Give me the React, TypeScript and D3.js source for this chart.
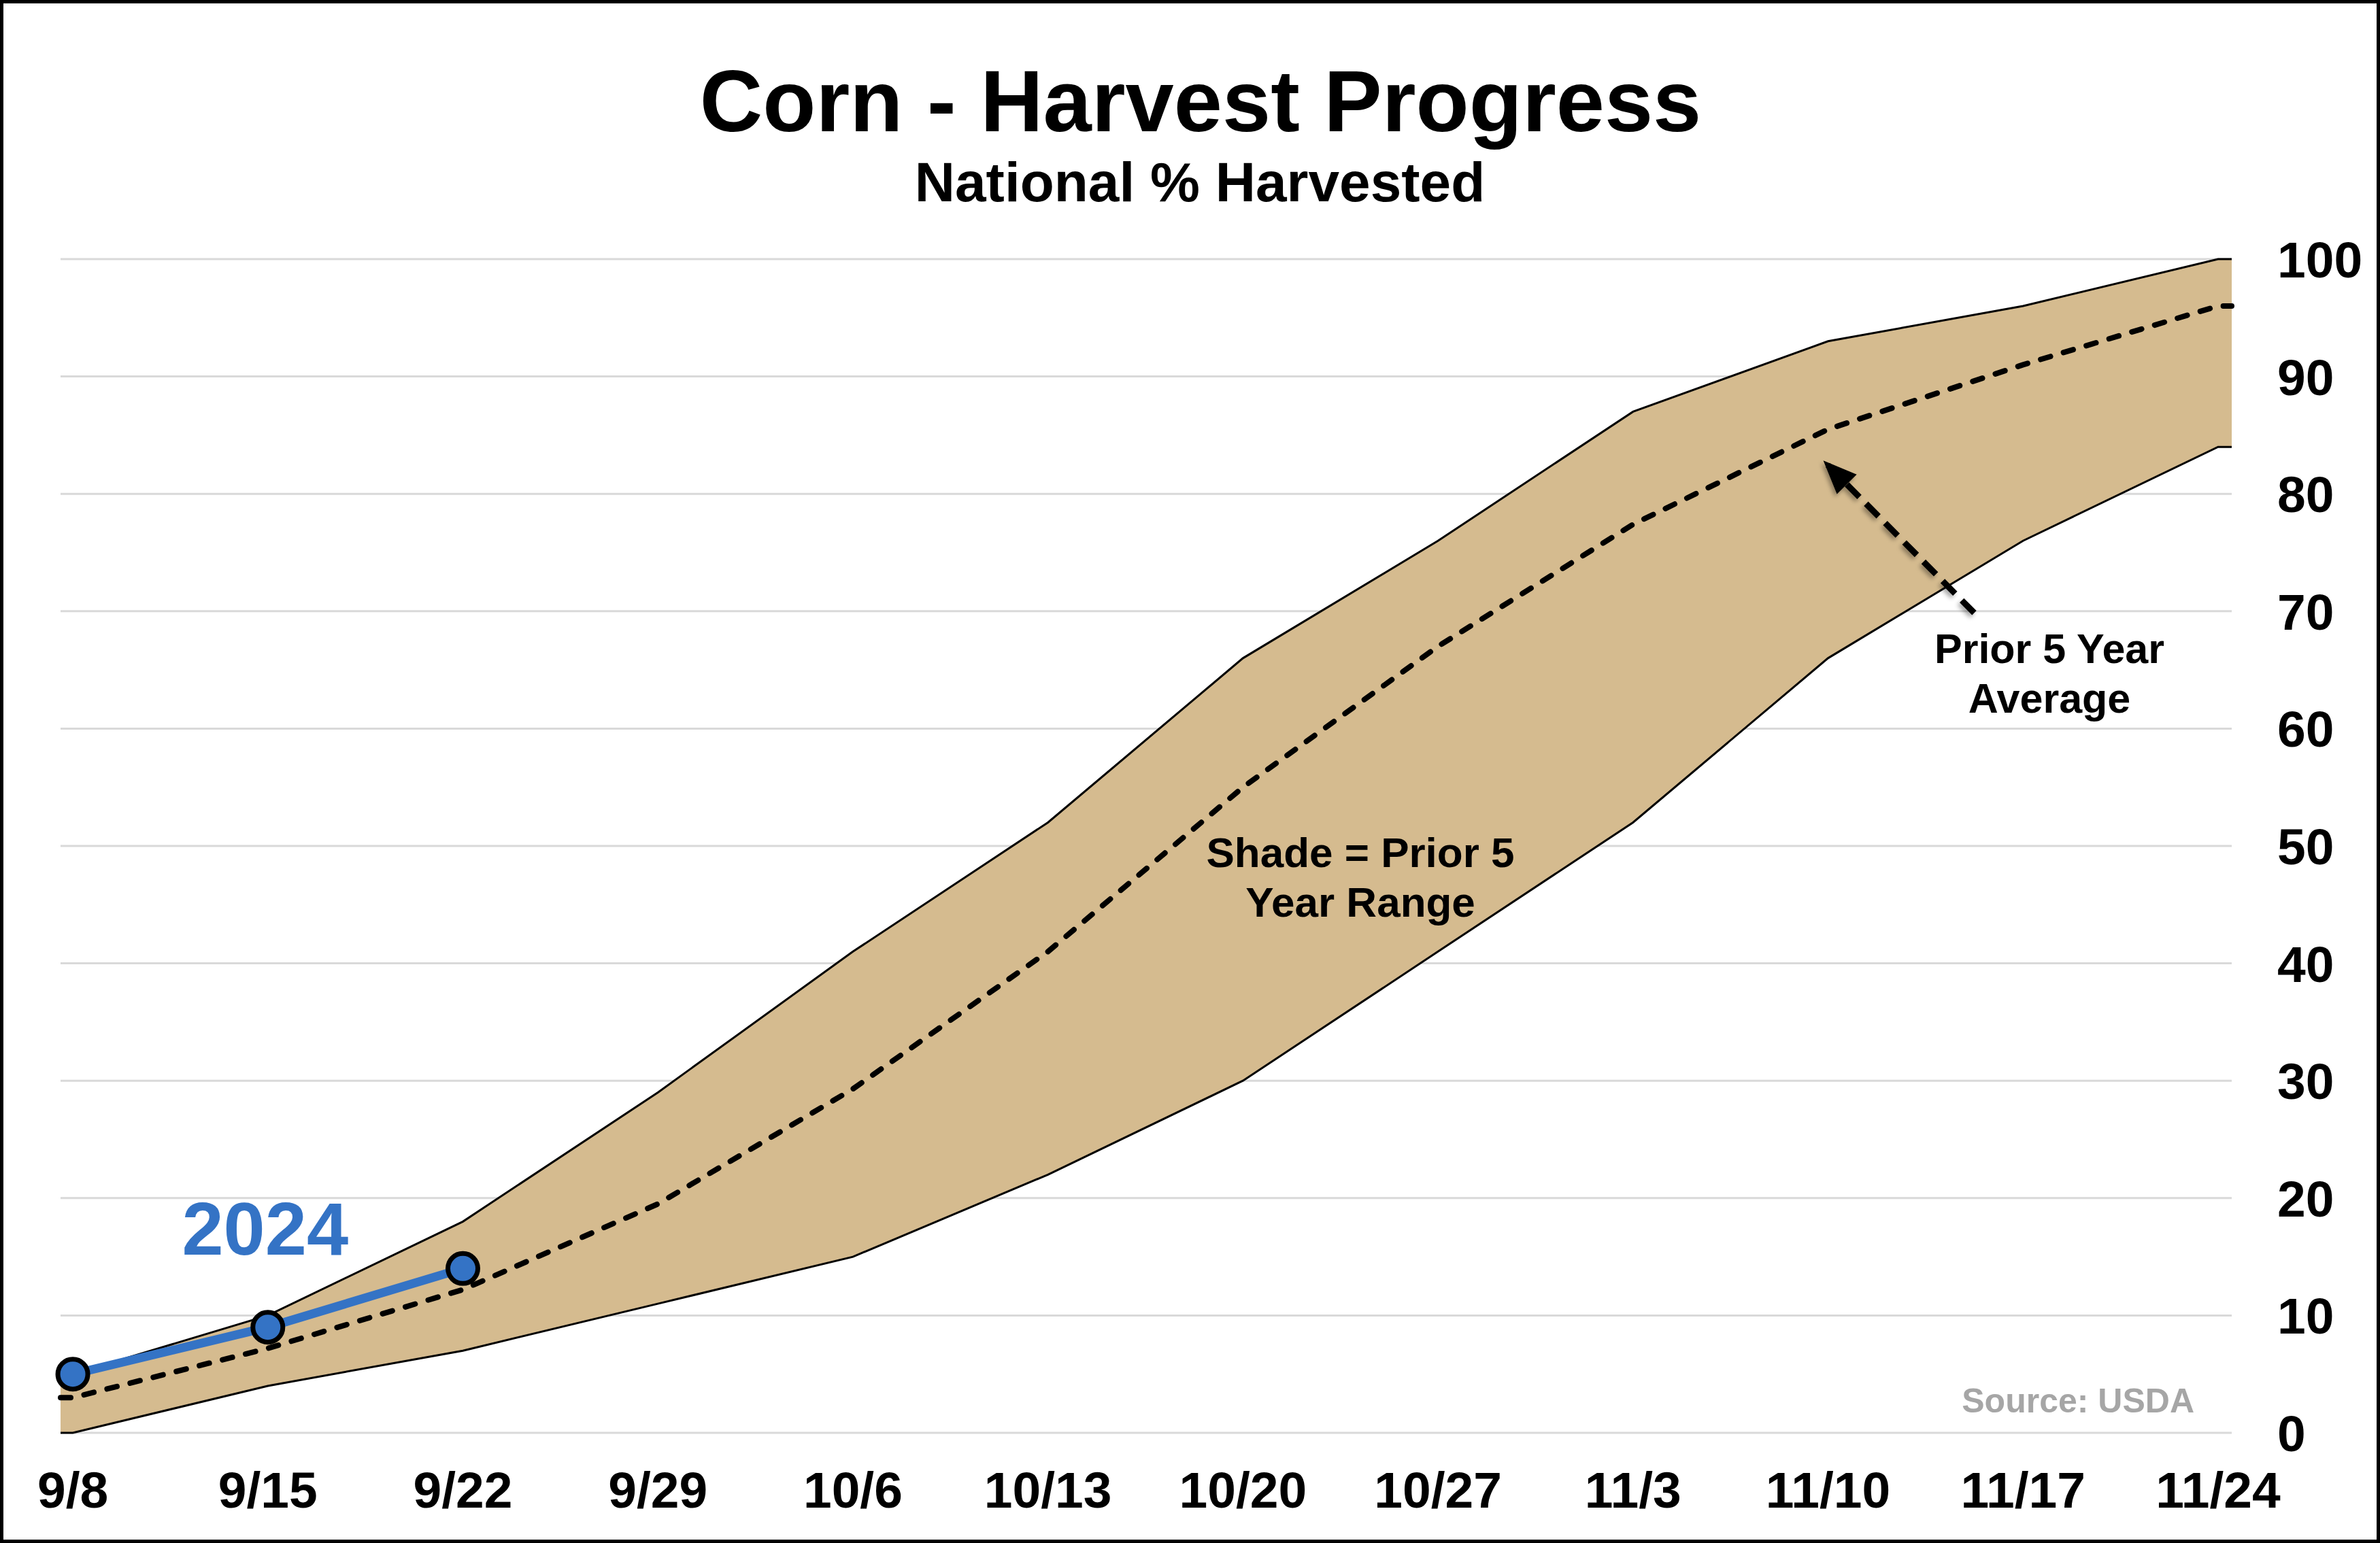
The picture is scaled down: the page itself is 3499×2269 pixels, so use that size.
import React from "react";
import * as d3 from "d3";

// weekly harvest progress, % of national corn acreage
const weeks = ["9/8", "9/15", "9/22", "9/29", "10/6", "10/13", "10/20", "10/27", "11/3", "11/10", "11/17", "11/24"];
const rangeHigh = [5, 10, 18, 29, 41, 52, 66, 76, 87, 93, 96, 100];
const rangeLow = [0, 4, 7, 11, 15, 22, 30, 41, 52, 66, 76, 84];
const avg5yr = [3, 7.2, 12.2, 19.5, 29.3, 41, 55, 67, 77.4, 85.5, 91, 96];
const progress2024 = [5, 9, 14];
const yTicks = [0, 10, 20, 30, 40, 50, 60, 70, 80, 90, 100];

const W = 3499;
const H = 2269;
const FONT = "'Liberation Sans', Arial, Helvetica, sans-serif";
const TAN = "#D5BB8F";
const BLUE = "#3473C5";

export default function App() {
  const n = weeks.length;
  const x = d3.scaleLinear().domain([-0.063, n - 1 + 0.07]).range([89, 3281]);
  const y = d3.scaleLinear().domain([0, 100]).range([2107, 381]);
  const [xMin, xMax] = x.domain();

  // the prior-year series run out to both edges of the plot
  const at = (arr: number[], t: number) => arr[Math.max(0, Math.min(n - 1, Math.round(t)))];
  const steps = [xMin, ...d3.range(n), xMax];

  const band = d3
    .area<number>()
    .x((t) => x(t))
    .y0((t) => y(at(rangeLow, t)))
    .y1((t) => y(at(rangeHigh, t)));
  const edge = (arr: number[]) =>
    d3
      .line<number>()
      .x((t) => x(t))
      .y((t) => y(at(arr, t)))(steps);

  const line2024 = d3
    .line<number>()
    .x((_, i) => x(i))
    .y((d) => y(d))(progress2024);

  // arrow pointing at the average line near 11/10
  const tip = [x(9) - 27, y(avg5yr[9]) + 26];
  const tail = [tip[0] + 242, tip[1] + 244];

  return (
    <div style={{ position: "absolute", left: 0, top: 0 }}>
      <svg width={W} height={H} style={{ display: "block", fontFamily: FONT }}>
        <defs>
          <marker id="head" markerUnits="userSpaceOnUse" markerWidth="60" markerHeight="60" refX="0" refY="0" viewBox="-40 -20 44 40" orient="auto">
            <path d="M2,0 L-34,-15 L-34,15 Z" fill="#000" />
          </marker>
          <filter id="shadow" x="-20%" y="-20%" width="140%" height="140%">
            <feDropShadow dx="-3" dy="4" stdDeviation="3" floodColor="#000" floodOpacity="0.35" />
          </filter>
        </defs>
        <rect x={0} y={0} width={W} height={H} fill="#fff" />

        <text x={1765} y={193} textAnchor="middle" fontSize={128} fontWeight="bold">
          Corn - Harvest Progress
        </text>
        <text x={1764} y={296} textAnchor="middle" fontSize={82} fontWeight="bold">
          National % Harvested
        </text>

        {yTicks.map((t) => (
          <g key={t}>
            <line x1={x(xMin)} x2={x(xMax)} y1={y(t)} y2={y(t)} stroke="#D9D9D9" strokeWidth={3} />
            <text x={3348} y={y(t)} dy="0.36em" fontSize={75} fontWeight="bold">
              {t}
            </text>
          </g>
        ))}

        <path d={band(steps) ?? ""} fill={TAN} />
        <path d={edge(rangeHigh) ?? ""} fill="none" stroke="#000" strokeWidth={3} />
        <path d={edge(rangeLow) ?? ""} fill="none" stroke="#000" strokeWidth={3} />
        <path
          d={edge(avg5yr) ?? ""}
          fill="none"
          stroke="#000"
          strokeWidth={8}
          strokeDasharray="15 20"
          strokeLinecap="round"
        />

        <path d={line2024 ?? ""} fill="none" stroke={BLUE} strokeWidth={13} />
        {progress2024.map((d, i) => (
          <circle key={i} cx={x(i)} cy={y(d)} r={22} fill={BLUE} stroke="#000" strokeWidth={7} />
        ))}
        <text x={x(1) - 4} y={1845} textAnchor="middle" fontSize={110} fontWeight="bold" fill={BLUE}>
          2024
        </text>

        <text x={2000} y={1275} textAnchor="middle" fontSize={62} fontWeight="bold">
          <tspan x={2000}>Shade = Prior 5</tspan>
          <tspan x={2000} dy={73}>Year Range</tspan>
        </text>

        <line
          x1={tail[0]}
          y1={tail[1]}
          x2={tip[0] + 22}
          y2={tip[1] + 22}
          stroke="#000"
          strokeWidth={9}
          strokeDasharray="26 14"
          markerEnd="url(#head)"
          filter="url(#shadow)"
        />
        <text x={3013} y={975} textAnchor="middle" fontSize={61} fontWeight="bold">
          <tspan x={3013}>Prior 5 Year</tspan>
          <tspan x={3013} dy={73}>Average</tspan>
        </text>

        <text x={3226} y={2077} textAnchor="end" fontSize={50} fontWeight="bold" fill="#A6A6A6">
          Source: USDA
        </text>

        {weeks.map((w, i) => (
          <text key={w} x={x(i)} y={2217} textAnchor="middle" fontSize={75} fontWeight="bold">
            {w}
          </text>
        ))}

        <rect x={2.5} y={2.5} width={W - 5} height={H - 5} fill="none" stroke="#000" strokeWidth={5} />
      </svg>
    </div>
  );
}
